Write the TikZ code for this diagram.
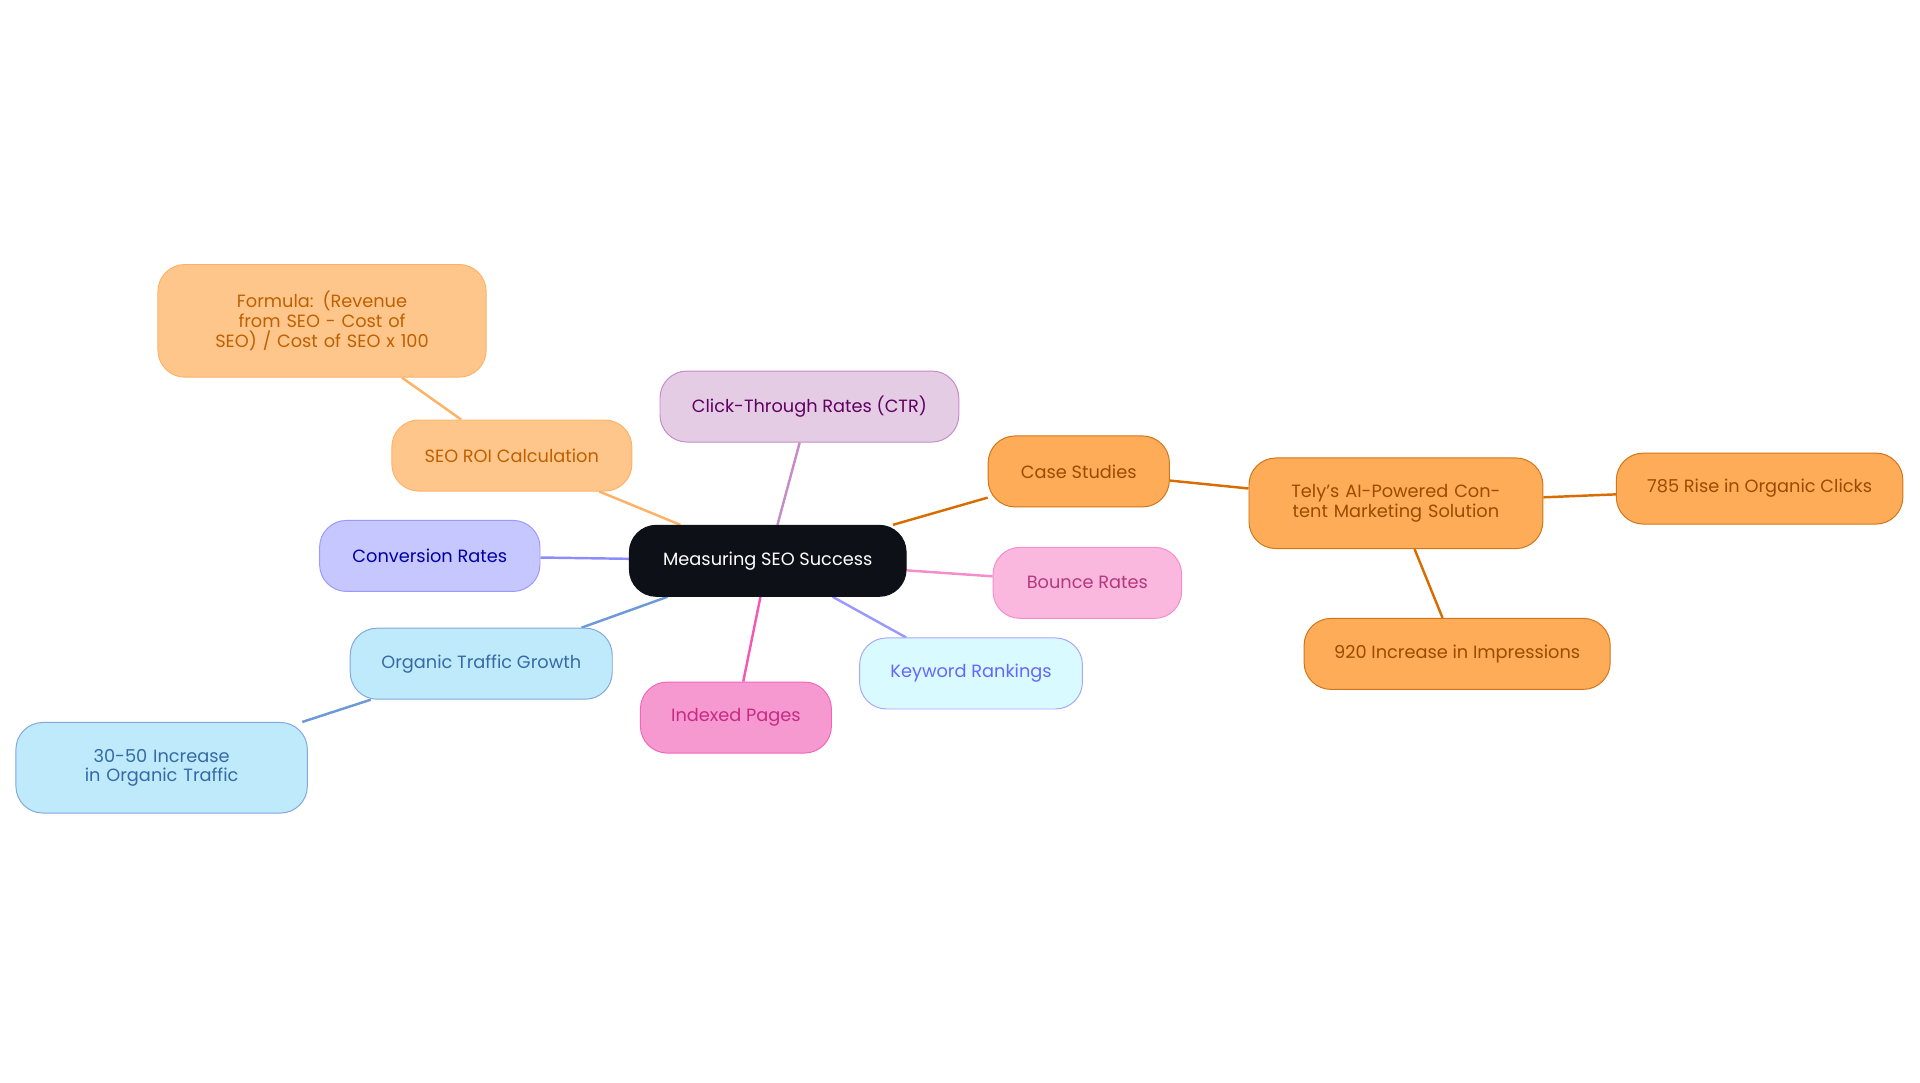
\documentclass[tikz,border=0pt]{standalone}
\usepackage{fontspec}
\setmainfont{Poppins}
\usetikzlibrary{backgrounds}
\definecolor{rootfill}{HTML}{0D1117}
\tikzset{
  topic/.style={rounded corners=22pt, draw, line width=0.8pt, align=center,
    inner sep=0pt, font=\fontsize{14.5}{16}\selectfont},
  link/.style={line width=2pt},
  mk/.style n args={3}{topic, fill=#1, draw=#2, text=#3}
}
\begin{document}
\begin{tikzpicture}[x=1pt,y=-1pt]
  \useasboundingbox (0,0) rectangle (1568,884);
  % centre
  \node[topic, fill=rootfill, draw=rootfill, text=white, minimum width=226pt, minimum height=58pt] (root) at (627,458) {Measuring SEO Success};
  % first ring
  \node[mk={violet!20}{violet!45}{violet!75!black}, minimum width=244pt, minimum height=58pt] (ctr) at (661,332) {Click-Through Rates (CTR)};
  \node[mk={orange!45}{orange!60}{orange!75!black}, minimum width=196pt, minimum height=58pt] (roi) at (418,372) {SEO ROI Calculation};
  \node[mk={orange!45}{orange!60}{orange!75!black}, minimum width=268pt, minimum height=92pt, text width=230pt] (formula) at (263,262) {Formula: (Revenue from SEO - Cost of SEO) / Cost of SEO x 100};
  \node[mk={blue!22}{blue!40}{blue!65!black}, minimum width=180pt, minimum height=58pt] (conv) at (351,454) {Conversion Rates};
  \node[mk={cyan!25}{cyan!50!blue!50}{cyan!50!blue!80!black}, minimum width=214pt, minimum height=58pt] (organic) at (393,542) {Organic Traffic Growth};
  \node[mk={cyan!25}{cyan!50!blue!50}{cyan!50!blue!80!black}, minimum width=238pt, minimum height=74pt, text width=210pt] (growth) at (132,627) {30-50 Increase in Organic Traffic};
  \node[mk={magenta!40}{magenta!60}{magenta!80!black}, minimum width=156pt, minimum height=58pt] (indexed) at (601,586) {Indexed Pages};
  \node[mk={blue!12!cyan!15}{blue!35}{blue!60}, minimum width=182pt, minimum height=58pt] (keyword) at (793,550) {Keyword Rankings};
  \node[mk={magenta!28}{magenta!45}{magenta!70!black}, minimum width=154pt, minimum height=58pt] (bounce) at (888,476) {Bounce Rates};
  \node[mk={orange!65}{orange!80!black!90}{orange!60!black}, minimum width=148pt, minimum height=58pt] (case) at (881,385) {Case Studies};
  \node[mk={orange!65}{orange!80!black!90}{orange!60!black}, minimum width=240pt, minimum height=74pt, text width=210pt] (tely) at (1140,411) {Tely's AI-Powered Content Marketing Solution};
  \node[mk={orange!65}{orange!80!black!90}{orange!60!black}, minimum width=234pt, minimum height=58pt] (clicks) at (1437,399) {785 Rise in Organic Clicks};
  \node[mk={orange!65}{orange!80!black!90}{orange!60!black}, minimum width=250pt, minimum height=58pt] (impr) at (1190,534) {920 Increase in Impressions};
  % links
  \begin{scope}[on background layer]
    \draw[link, violet!45] (root) -- (ctr);
    \draw[link, orange!60] (root) -- (roi);
    \draw[link, orange!60] (roi) -- (formula);
    \draw[link, blue!45] (root) -- (conv);
    \draw[link, cyan!50!blue!60] (root) -- (organic);
    \draw[link, cyan!50!blue!60] (organic) -- (growth);
    \draw[link, magenta!65] (root) -- (indexed);
    \draw[link, blue!40] (root) -- (keyword);
    \draw[link, magenta!45] (root) -- (bounce);
    \draw[link, orange!85!black] (root) -- (case);
    \draw[link, orange!85!black] (case) -- (tely);
    \draw[link, orange!85!black] (tely) -- (clicks);
    \draw[link, orange!85!black] (tely) -- (impr);
  \end{scope}
\end{tikzpicture}
\end{document}
